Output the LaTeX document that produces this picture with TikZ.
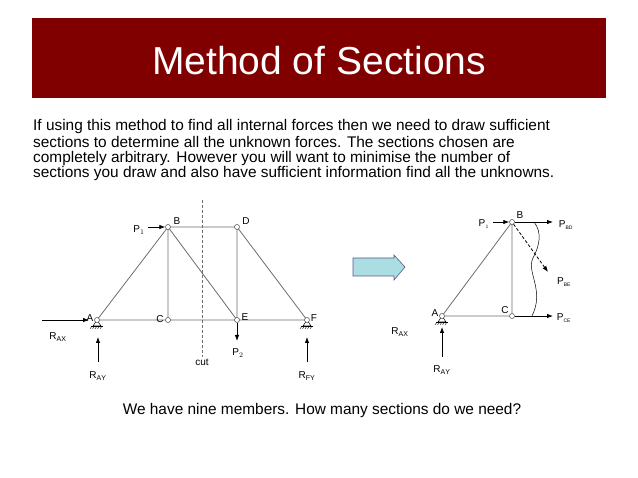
\documentclass[tikz,border=0pt]{standalone}
\usepackage{fontspec}
\setmainfont{Liberation Sans}
\usetikzlibrary{arrows.meta,calc}
\definecolor{hdr}{RGB}{128,0,0}
\definecolor{mem}{RGB}{110,110,110}
\definecolor{bigarr}{RGB}{170,222,226}
\begin{document}
\begin{tikzpicture}[x=1pt,y=-1pt,
  jt/.style={circle,draw=black!70,fill=white,inner sep=0pt,minimum size=5pt,line width=0.5pt},
  memb/.style={draw=mem,line width=0.8pt},
  frc/.style={-{Latex[length=6pt,width=4.5pt]},line width=0.8pt},
  lbl/.style={font=\fontsize{10}{11}\selectfont,inner sep=1pt},
  txt/.style={font=\fontsize{15.4}{17}\selectfont,anchor=base west,inner sep=0pt,text height=8pt,text depth=1pt}]
\useasboundingbox (0,0) rectangle (638,478);
\fill[white] (0,0) rectangle (638,478);
\fill[hdr] (32,18) rectangle (606,98);
\node[text=white,font=\fontsize{39}{44}\selectfont] (title) at (319,61) {Method of Sections};
\node[txt] (t1) at (33,130.5) {If using this method to find all internal forces then we need to draw sufficient};
\node[txt] (t2) at (33,148) {sections to determine all the unknown forces.  The sections chosen are};
\node[txt] (t3) at (33,163) {completely arbitrary.  However you will want to minimise the number of};
\node[txt] (t4) at (33,177.5) {sections you draw and also have sufficient information find all the unknowns.};
\node[font=\fontsize{15.4}{17}\selectfont] (bt) at (322,411) {We have nine members.  How many sections do we need?};
% left truss
\coordinate (A) at (97,320); \coordinate (B) at (168,227); \coordinate (D) at (237,227);
\coordinate (C) at (168,320); \coordinate (E) at (237,320); \coordinate (F) at (307,320);
\draw[memb] (A)--(B)--(D)--(F)--(E)--(C)--(A) (B)--(C) (B)--(E) (D)--(E);
\draw[densely dashed,mem,line width=0.8pt] (202,200)--(202,357);
\node[lbl] (cut) at (202,362) {cut};
\foreach \s in {A,F}{
 \draw[line width=0.5pt] (\s) -- ++(-4,6) -- ++(8,0) -- cycle;
 \draw[line width=0.4pt] ($(\s)+(-6,6)$)--($(\s)+(6,6)$);
 \foreach \k in {-5,-2.5,0,2.5,5}{\draw[line width=0.4pt] ($(\s)+(\k,6)$)--++(-2,3);}
}
\foreach \n in {A,B,C,D,E,F}{\node[jt] (j\n) at (\n) {};}
\coordinate (p1s) at (148,227); \draw[frc] (p1s)--(jB);
\node[lbl] at (139,230) {P$_1$};
\node[lbl] at (177,221) {B}; \node[lbl] at (246,221) {D};
\node[lbl] at (90,318) {A}; \node[lbl] at (160,319) {C};
\node[lbl] at (245,317) {E}; \node[lbl] at (314,318) {F};
\coordinate (rax) at (42,320); \draw[frc] (rax)--(89,320);
\node[lbl] at (58,337) {R$_{\mathrm{AX}}$};
\coordinate (ray) at (98,362); \draw[frc] (ray)--(98,337);
\node[lbl] at (98,376) {R$_{\mathrm{AY}}$};
\coordinate (rfy) at (307,362); \draw[frc] (rfy)--(307,337);
\node[lbl] at (307,376) {R$_{\mathrm{FY}}$};
\coordinate (p2e) at (237,341); \draw[frc] (jE)--(p2e);
\node[lbl] at (238,353) {P$_2$};
% big arrow
\draw[fill=bigarr,draw=mem!80!blue,line width=0.6pt] (353,258)--(394,258)--(394,255)--(405,267)--(394,280)--(394,276)--(353,276)--cycle;
% right free body
\coordinate (A2) at (442,316); \coordinate (B2) at (512,222); \coordinate (C2) at (512,316);
\draw[memb] (A2)--(B2)--(C2)--(A2);
\draw[line width=0.5pt] (A2) -- ++(-4,6) -- ++(8,0) -- cycle;
\draw[line width=0.4pt] ($(A2)+(-6,6)$)--($(A2)+(6,6)$);
\foreach \k in {-5,-2.5,0,2.5,5}{\draw[line width=0.4pt] ($(A2)+(\k,6)$)--++(-2,3);}
\foreach \n in {A2,B2,C2}{\node[jt] (j\n) at (\n) {};}
\coordinate (p1b) at (493,222); \draw[frc] (p1b)--(jB2);
\node[lbl] at (484,224) {P$_{\scriptscriptstyle 1}$};
\node[lbl] at (520,215) {B}; \node[lbl] at (505,310) {C}; \node[lbl] at (435,313) {A};
\coordinate (pbd) at (553,222); \draw[frc] (jB2)--(pbd);
\node[lbl] at (566,225) {P$_{\scriptscriptstyle \mathrm{BD}}$};
\coordinate (pbe) at (548,272); \draw[frc,densely dashed] (jB2)--(pbe);
\node[lbl] at (564,282) {P$_{\scriptscriptstyle \mathrm{BE}}$};
\coordinate (pce) at (553,316); \draw[frc] (jC2)--(pce);
\node[lbl] at (564,318) {P$_{\scriptscriptstyle \mathrm{CE}}$};
\draw[line width=0.5pt] (534,222) .. controls (542,232) and (540,245) .. (533,258) .. controls (526,272) and (545,290) .. (532,316);
\node[lbl] at (400,332) {R$_{\mathrm{AX}}$};
\coordinate (ray2) at (442,357); \draw[frc] (ray2)--(442,327);
\node[lbl] at (442,370) {R$_{\mathrm{AY}}$};
\end{tikzpicture}
\end{document}
